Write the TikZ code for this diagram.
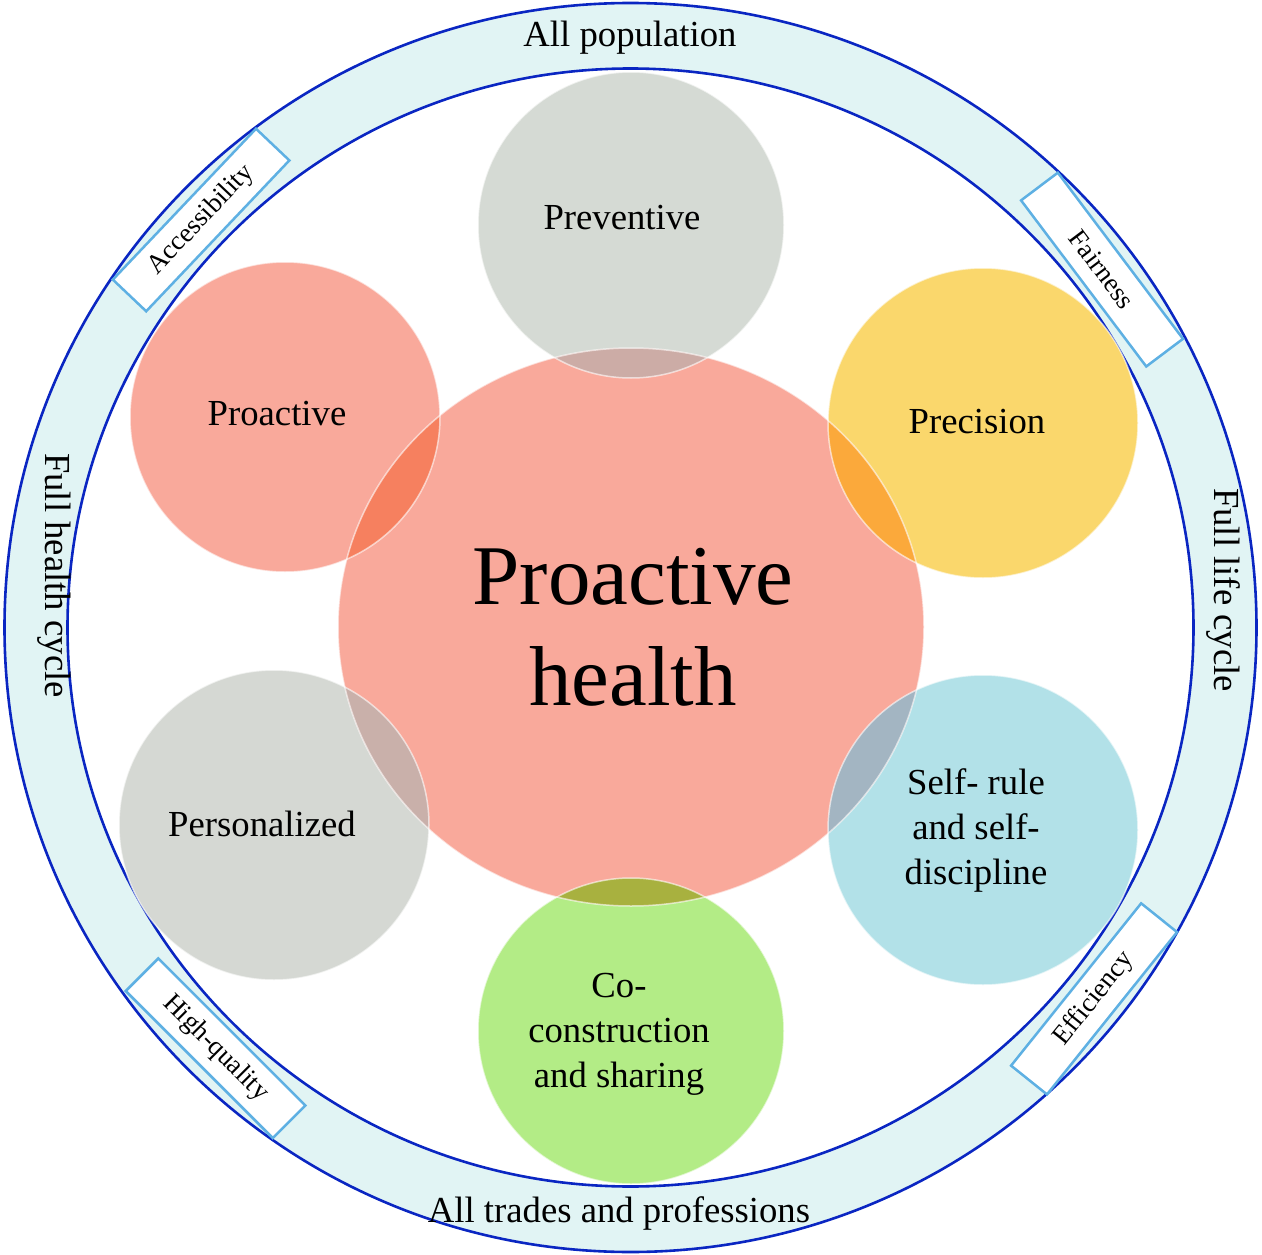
\documentclass[tikz,border=0pt]{standalone}
\usepackage{fontspec}
\setmainfont{Liberation Serif}
\usetikzlibrary{calc}
\definecolor{ringfill}{HTML}{E1F4F4}
\definecolor{ringline}{HTML}{0A26C2}
\definecolor{tagline}{HTML}{5EB0E3}
\definecolor{mainfill}{HTML}{F9A99B}
\definecolor{pvfill}{HTML}{D5DAD4}
\definecolor{pvlens}{HTML}{CCACA6}
\definecolor{pafill}{HTML}{F9A99B}
\definecolor{palens}{HTML}{F6805F}
\definecolor{prfill}{HTML}{FAD76C}
\definecolor{prlens}{HTML}{FBA93B}
\definecolor{pefill}{HTML}{D5D8D3}
\definecolor{pelens}{HTML}{C9B0AA}
\definecolor{srfill}{HTML}{B2E1E8}
\definecolor{srlens}{HTML}{A3B5C2}
\definecolor{cofill}{HTML}{B3EC86}
\definecolor{colens}{HTML}{A8B13F}
\tikzset{
  ringstroke/.style={draw=ringline, line width=2.6pt},
  rim/.style={draw=white, draw opacity=0.6, line width=1.5pt},
  lbl/.style={font=\fontsize{36.7}{45}\selectfont, text=black, inner sep=0pt, align=center},
  biglbl/.style={font=\fontsize{85}{101}\selectfont, text=black, inner sep=0pt, align=center},
  tagbox/.style={draw=tagline, line width=2.5pt, fill=white, minimum width=208pt, minimum height=46pt, inner sep=0pt, font=\fontsize{27}{32}\selectfont, text=black}
}
\begin{document}
\begin{tikzpicture}[x=1pt,y=-1pt]
\useasboundingbox (0,0) rectangle (1262,1255);
\coordinate (C) at (630.5,627.5);
\coordinate (M) at (631,627);
\coordinate (pv) at (631,225);
\coordinate (pa) at (285,417);
\coordinate (pr) at (983,423);
\coordinate (pe) at (274,825);
\coordinate (sr) at (983,830);
\coordinate (co) at (631,1031);
% ring
\fill[ringfill, even odd rule] (C) ellipse [x radius=626pt, y radius=624.5pt] (C) ellipse [x radius=563pt, y radius=559pt];
\draw[ringstroke] (C) ellipse [x radius=626pt, y radius=624.5pt];
\draw[ringstroke] (C) ellipse [x radius=563pt, y radius=559pt];
% satellites
\fill[pvfill] (pv) circle [radius=153pt];
\fill[pafill] (pa) circle [radius=155pt];
\fill[prfill] (pr) circle [radius=155pt];
\fill[pefill] (pe) circle [radius=155pt];
\fill[srfill] (sr) circle [radius=155pt];
\fill[cofill] (co) circle [radius=153pt];
% main ellipse
\fill[mainfill] (M) ellipse [x radius=293pt, y radius=279pt];
% lenses
\begin{scope}
  \clip (M) ellipse [x radius=293pt, y radius=279pt];
  \fill[pvlens] (pv) circle [radius=153pt];
  \fill[palens] (pa) circle [radius=155pt];
  \fill[prlens] (pr) circle [radius=155pt];
  \fill[pelens] (pe) circle [radius=155pt];
  \fill[srlens] (sr) circle [radius=155pt];
  \fill[colens] (co) circle [radius=153pt];
\end{scope}
% rims
\draw[rim] (pv) circle [radius=153pt];
\draw[rim] (pa) circle [radius=155pt];
\draw[rim] (pr) circle [radius=155pt];
\draw[rim] (pe) circle [radius=155pt];
\draw[rim] (sr) circle [radius=155pt];
\draw[rim] (co) circle [radius=153pt];
\draw[rim] (M) ellipse [x radius=293pt, y radius=279pt];
% texts
\node[biglbl] (tmain) at (633,627) {Proactive\\health};
\node[lbl] (tpv) at (622,218) {Preventive};
\node[lbl] (tpa) at (277,414) {Proactive};
\node[lbl] (tpr) at (977,422) {Precision};
\node[lbl] (tpe) at (262,824) {Personalized};
\node[lbl] (tsr) at (976,830) {Self- rule\\and self-\\discipline};
\node[lbl] (tco) at (619,1034) {Co-\hspace{0.5em}\\construction\\and sharing};
% ring labels
\node[lbl] (allpop) at (630,37.5) {All population};
\node[lbl] (alltrades) at (619,1213.5) {All trades and professions};
\node[lbl, rotate=-90] (fhc) at (54,575.5) {Full health cycle};
\node[lbl, rotate=-90] (flc) at (1223.5,590) {Full life cycle};
% tags
\node[tagbox, rotate=46.5] (acc) at ($(C)+(136.5:592pt)$) {Accessibility};
\node[tagbox, rotate=-53] (fair) at ($(C)+(37.2:592pt)$) {Fairness};
\node[tagbox, rotate=51.3] (eff) at ($(C)+(-38.7:594pt)$) {Efficiency};
\node[tagbox, rotate=-45] (hq) at ($(C)+(-134.6:591pt)$) {High-quality};
\end{tikzpicture}
\end{document}
